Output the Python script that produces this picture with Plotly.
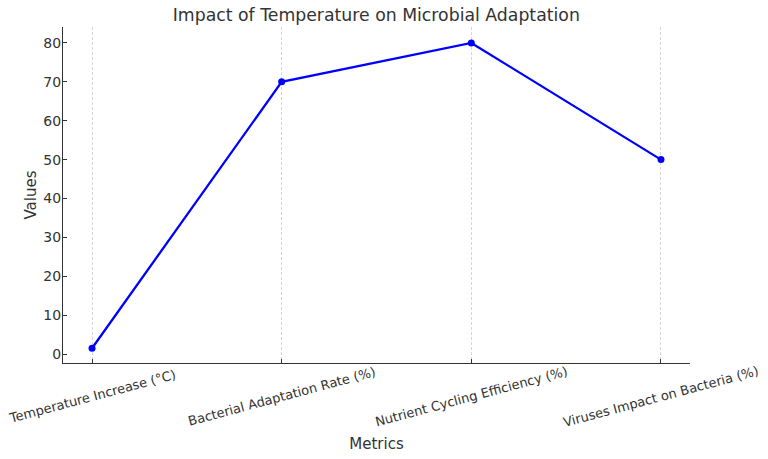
import plotly.graph_objects as go

categories = ["Temperature Increase (°C)", "Bacterial Adaptation Rate (%)",
              "Nutrient Cycling Efficiency (%)", "Viruses Impact on Bacteria (%)"]
values = [1.5, 70, 80, 50]
y_ticks = [0, 10, 20, 30, 40, 50, 60, 70, 80]

TXT = "#333333"
FONT = "DejaVu Sans"

fig = go.Figure()
fig.add_trace(go.Scatter(
    x=categories, y=values, mode="lines+markers",
    line=dict(color="#0000ff", width=2.3),
    marker=dict(color="#0000ff", size=7),
    showlegend=False,
))

for c in categories:
    fig.add_annotation(x=c, xref="x", y=0, yref="paper", yshift=-33,
                       text=c, textangle=-15, showarrow=False,
                       xanchor="center", yanchor="middle",
                       font=dict(family=FONT, size=13, color=TXT))

fig.update_layout(
    width=768, height=459,
    margin=dict(l=63, r=78, t=27, b=96, autoexpand=False),
    paper_bgcolor="white", plot_bgcolor="white",
    font=dict(family=FONT, color=TXT, size=13),
    title=dict(text="Impact of Temperature on Microbial Adaptation",
               x=0.49, xanchor="center", y=0.967, yanchor="middle",
               font=dict(family=FONT, size=17.3, color=TXT)),
    xaxis=dict(
        type="category", range=[-0.153, 3.153],
        showticklabels=False, automargin=False,
        showgrid=True, gridcolor="#d6d6d6", griddash="3px,2px", gridwidth=1,
        ticks="inside", ticklen=4, tickcolor=TXT,
        showline=True, linecolor=TXT, linewidth=1.3,
        zeroline=False,
        title=dict(text="Metrics", standoff=75,
                   font=dict(family=FONT, size=15, color=TXT)),
    ),
    yaxis=dict(
        range=[-2.3, 84.1], tickvals=y_ticks, automargin=False,
        showgrid=False, zeroline=False,
        ticks="inside", ticklen=4, tickcolor=TXT,
        showline=True, linecolor=TXT, linewidth=1.3,
        tickfont=dict(family=FONT, size=14, color=TXT),
        ticklabelstandoff=-2,
        title=dict(text="Values", standoff=2,
                   font=dict(family=FONT, size=15, color=TXT)),
    ),
)

fig.write_html("out.html")
